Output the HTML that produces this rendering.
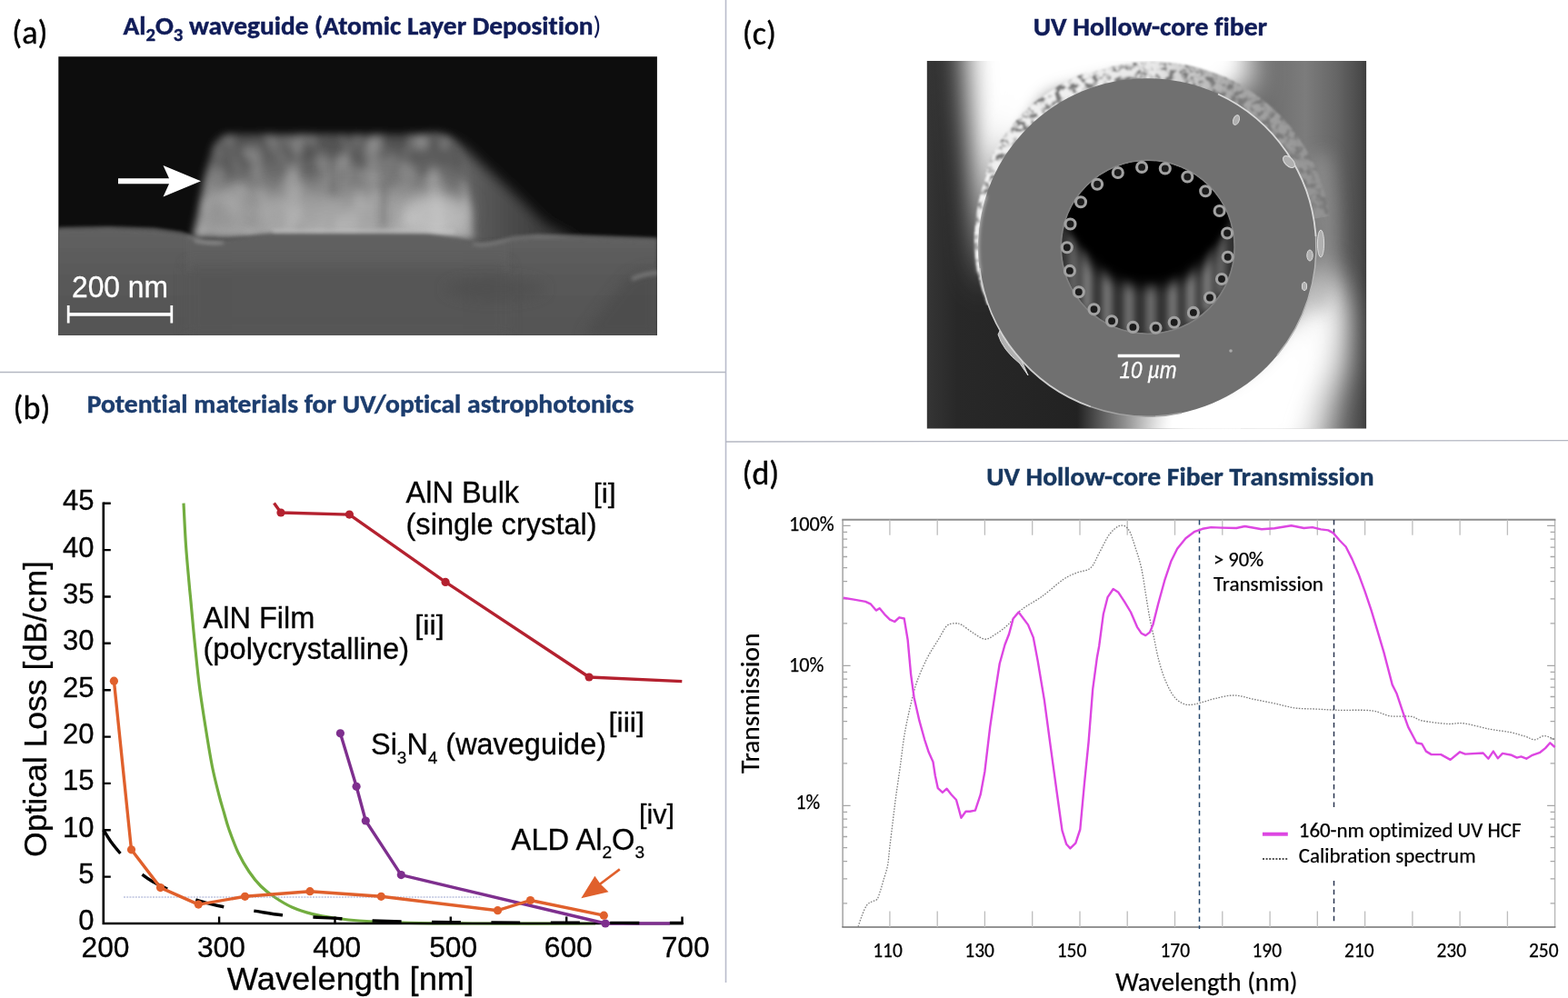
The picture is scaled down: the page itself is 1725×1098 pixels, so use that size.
<!DOCTYPE html>
<html lang="en">
<head>
<meta charset="utf-8">
<title>UV astrophotonics figure</title>
<style>
html,body{margin:0;padding:0;background:#fff;}
body{width:1725px;height:1098px;overflow:hidden;position:relative;}
svg{display:block;position:absolute;left:0;top:0;}
.cal{font-family:Carlito,Calibri,"Liberation Sans",sans-serif;}
.sans{font-family:"Liberation Sans",Arial,Helvetica,sans-serif;}
text{white-space:pre;font-variant-ligatures:none;font-feature-settings:"liga" 0,"clig" 0;}
</style>
</head>
<body>
<svg width="1725" height="1098" viewBox="0 0 1725 1098">
<defs>
<clipPath id="ca"><rect x="64.3" y="62.3" width="658.6" height="306.6"/></clipPath>
<filter id="b2" filterUnits="userSpaceOnUse" x="0" y="0" width="1725" height="1098"><feGaussianBlur stdDeviation="2"/></filter>
<filter id="b4" filterUnits="userSpaceOnUse" x="0" y="0" width="1725" height="1098"><feGaussianBlur stdDeviation="4"/></filter>
<filter id="b7" filterUnits="userSpaceOnUse" x="0" y="0" width="1725" height="1098"><feGaussianBlur stdDeviation="7"/></filter>
<filter id="b12" filterUnits="userSpaceOnUse" x="0" y="0" width="1725" height="1098"><feGaussianBlur stdDeviation="12"/></filter>
<filter id="wgf" filterUnits="userSpaceOnUse" x="150" y="100" width="520" height="220">
<feTurbulence type="fractalNoise" baseFrequency="0.045 0.03" numOctaves="2" seed="5" result="n"/>
<feColorMatrix in="n" type="matrix" values="0 0 0 0 1  0 0 0 0 1  0 0 0 0 1  0.6 0 0 0 -0.26" result="hi"/>
<feComposite in="hi" in2="SourceGraphic" operator="in" result="hi2"/>
<feColorMatrix in="n" type="matrix" values="0 0 0 0 0  0 0 0 0 0  0 0 0 0 0  0 0.6 0 0 -0.27" result="lo"/>
<feComposite in="lo" in2="SourceGraphic" operator="in" result="lo2"/>
<feMerge><feMergeNode in="SourceGraphic"/><feMergeNode in="hi2"/><feMergeNode in="lo2"/></feMerge>
<feGaussianBlur stdDeviation="4"/>
</filter>
<linearGradient id="wgv" x1="0" y1="146" x2="0" y2="258" gradientUnits="userSpaceOnUse">
<stop offset="0" stop-color="#4a4a4a"/><stop offset="0.25" stop-color="#5e5e5e"/><stop offset="0.55" stop-color="#7e7e7e"/><stop offset="0.85" stop-color="#989898"/><stop offset="1" stop-color="#a8a8a8"/></linearGradient>
<linearGradient id="subv" x1="0" y1="250" x2="0" y2="369" gradientUnits="userSpaceOnUse">
<stop offset="0" stop-color="#626262"/><stop offset="0.3" stop-color="#5b5b5b"/><stop offset="1" stop-color="#545454"/></linearGradient>
<linearGradient id="slp" x1="500" y1="200" x2="600" y2="200" gradientUnits="userSpaceOnUse">
<stop offset="0" stop-color="#6a6a6a"/><stop offset="0.35" stop-color="#565656"/><stop offset="1" stop-color="#3c3c3c"/></linearGradient>
</defs>
<g id="panel-a">
<text x="13.3" y="48.1" font-size="36.0" class="cal" textLength="39.1" lengthAdjust="spacingAndGlyphs" stroke="#000" stroke-width="0.4">(a)</text>
<text x="135.4" y="38.3" font-size="28.4" class="cal" font-weight="bold" fill="#101c58" stroke="#101c58" stroke-width="0.45" textLength="526" lengthAdjust="spacingAndGlyphs">Al<tspan font-size="20" dy="6.3">2</tspan><tspan dy="-6.3">O</tspan><tspan font-size="20" dy="6.3">3</tspan><tspan dy="-6.5"> waveguide (Atomic Layer Deposition</tspan><tspan font-weight="normal" stroke="none">)</tspan></text>
<g clip-path="url(#ca)">
<rect x="64" y="62" width="660" height="308" fill="#0d0d0d"/>
<path d="M470 150 Q500 150 520 172 L560 208 L600 246 L640 268 L520 275 L480 262Z" fill="url(#slp)" filter="url(#b7)"/>
<path d="M60 252 L120 251 L170 252.8 L200 257 L222 265 L240 266.5 L520 268 L530 269.5 L545 267 L565 262 L590 259.8 L640 260.5 L724 263.5 V372 H60Z" fill="url(#subv)" filter="url(#b2)"/>
<path d="M212 262 L218 232 L225 195 L233 165 Q238 149 252 147.5 L482 147.5 Q500 149 507 168 L516 215 L521 262Z" fill="url(#wgv)" filter="url(#wgf)"/>
<ellipse cx="385" cy="232" rx="130" ry="24" fill="#b4b4b4" opacity="0.55" filter="url(#b12)"/>
<ellipse cx="480" cy="238" rx="36" ry="24" fill="#d0d0d0" opacity="0.55" filter="url(#b7)"/>
<ellipse cx="250" cy="235" rx="22" ry="28" fill="#999" opacity="0.35" filter="url(#b7)"/>
<path d="M366 160V215M422 200V250" stroke="#505050" stroke-width="8" opacity="0.35" fill="none" filter="url(#b4)"/>
<path d="M205 259 L222 265.5 L250 263 L300 256.5 L470 256.5 L505 262 L522 268.5 L560 264 L560 300 L205 300Z" fill="#606060" filter="url(#b2)"/>
<path d="M205 290H560V372H205Z" fill="#575757" filter="url(#b7)" opacity="0.9"/>
<path d="M64 252 L120 251 L170 252.8 L200 257 L222 265 L240 266.8" stroke="#7c7c7c" stroke-width="2" fill="none" filter="url(#b2)"/>
<path d="M214 265 Q228 268.5 246 267" stroke="#a0a0a0" stroke-width="2" fill="none" filter="url(#b2)"/>
<path d="M520 268 Q530 270.5 545 267 L565 262 L590 259.8 L640 260.5 L723 263.5" stroke="#8a8a8a" stroke-width="2.2" fill="none" filter="url(#b2)"/>
<path d="M300 254.5 L500 254.5" stroke="#c8c8c8" stroke-width="3" fill="none" filter="url(#b2)" opacity="0.7"/>
<path d="M690 305 Q705 296 724 296 V372 H640 Q660 340 690 305Z" fill="#4a4a4a" opacity="0.6" filter="url(#b7)"/>
<path d="M695 307 Q708 301 724 300" stroke="#7a7a7a" stroke-width="4" fill="none" filter="url(#b2)"/>
<ellipse cx="545" cy="318" rx="55" ry="12" fill="#4c4c4c" opacity="0.5" filter="url(#b7)"/>
<path d="M130 196.2H186L179.5 182L221 199.3L179.5 216.5L186 202.3H130Z" fill="#fff"/>
<path d="M75 345.9H189" stroke="#fff" stroke-width="3.6" fill="none"/>
<path d="M75.2 335.9V355.6M188.8 335.9V355.6" stroke="#fff" stroke-width="2.8" fill="none"/>
<text x="79.0" y="326.6" font-size="33.0" class="sans" fill="#fff" textLength="106.0" lengthAdjust="spacingAndGlyphs" stroke="#fff" stroke-width="0.3">200 nm</text>
</g></g>
<defs>
<clipPath id="cc"><rect x="1019.8" y="66.9" width="483.3" height="404.7"/></clipPath>
<clipPath id="crough"><path d="M1000 40H1520V228L1262 272L1060 345H1000Z"/></clipPath>
<clipPath id="chole"><circle cx="1262.7" cy="271.8" r="94.6"/></clipPath>
<filter id="b05" filterUnits="userSpaceOnUse" x="1100" y="100" width="330" height="340"><feGaussianBlur stdDeviation="0.6"/></filter>
<filter id="b10" filterUnits="userSpaceOnUse" x="0" y="0" width="1725" height="1098"><feGaussianBlur stdDeviation="10"/></filter>
<filter id="b16" filterUnits="userSpaceOnUse" x="0" y="0" width="1725" height="1098"><feGaussianBlur stdDeviation="16"/></filter>
<filter id="rough" filterUnits="userSpaceOnUse" x="1000" y="40" width="520" height="450">
<feTurbulence type="fractalNoise" baseFrequency="0.13" numOctaves="3" seed="11" result="n"/>
<feColorMatrix in="n" type="matrix" values="0 0 0 0 0  0 0 0 0 0  0 0 0 0 0  3 3 0 0 -2.75" result="a"/>
<feFlood flood-color="#7a7a7a"/><feComposite in2="a" operator="in" result="dk"/>
<feMerge><feMergeNode in="SourceGraphic"/><feMergeNode in="dk"/></feMerge>
<feComposite in2="SourceGraphic" operator="in"/>
<feGaussianBlur stdDeviation="0.8"/>
</filter>
<linearGradient id="cbg" x1="1019" y1="0" x2="1504" y2="0" gradientUnits="userSpaceOnUse">
<stop offset="0" stop-color="#353535"/><stop offset="0.07" stop-color="#282828"/><stop offset="0.35" stop-color="#222"/><stop offset="0.86" stop-color="#7c7c7c"/><stop offset="0.93" stop-color="#666"/><stop offset="0.985" stop-color="#4a4a4a"/><stop offset="1" stop-color="#3c3c3c"/></linearGradient>
<linearGradient id="cbot" x1="1185" y1="0" x2="1290" y2="0" gradientUnits="userSpaceOnUse">
<stop offset="0" stop-color="#fff" stop-opacity="0"/><stop offset="0.5" stop-color="#fff" stop-opacity="0.45"/><stop offset="1" stop-color="#fff" stop-opacity="1"/></linearGradient>
<linearGradient id="roughg" x1="1080" y1="0" x2="1460" y2="0" gradientUnits="userSpaceOnUse">
<stop offset="0" stop-color="#f4f4f4"/><stop offset="0.5" stop-color="#e8e8e8"/><stop offset="0.72" stop-color="#aaa"/><stop offset="1" stop-color="#909090"/></linearGradient>
<radialGradient id="holeg" cx="1264" cy="255" r="112" gradientUnits="userSpaceOnUse">
<stop offset="0" stop-color="#000"/><stop offset="0.62" stop-color="#000"/><stop offset="0.85" stop-color="#161616"/><stop offset="1" stop-color="#2c2c2c"/></radialGradient>
</defs>
<g id="panel-c">
<text x="816.8" y="48.5" font-size="36.0" class="cal" textLength="37.1" lengthAdjust="spacingAndGlyphs" stroke="#000" stroke-width="0.4">(c)</text>
<text x="1136.7" y="39.3" font-size="28.4" class="cal" fill="#101c58" font-weight="bold" textLength="257.4" lengthAdjust="spacingAndGlyphs" stroke="#101c58" stroke-width="0.45">UV Hollow-core fiber</text>
<g clip-path="url(#cc)">
<rect x="1019" y="66" width="486" height="407" fill="url(#cbg)"/>
<path d="M1106 20 L1372 20 L1378 96 L1340 104 L1262 72 L1150 100 L1102 175 L1090 250 L1082 320 L1076 262 L1071 200 L1064 120 L1058 20Z" fill="#fff" filter="url(#b16)"/>
<path d="M1104 40 L1350 40 L1345 100 L1262 75 L1150 102 L1104 170 L1092 215Z" fill="#fff" filter="url(#b10)"/>
<path d="M1260 500 L1300 452 L1385 402 L1432 345 L1452 292 L1464 296 L1476 350 L1468 400 L1450 440 L1436 500Z" fill="#fff" filter="url(#b16)"/>
<path d="M1280 490 L1320 446 L1392 398 L1436 345 L1440 400 L1425 440 L1410 490Z" fill="#fff" filter="url(#b10)"/>
<rect x="1185" y="440" width="180" height="34" fill="url(#cbot)"/>
<path d="M1380 500 L1400 430 L1440 360 L1460 300 L1478 330 L1484 400 L1470 450 L1460 500Z" fill="#fff" opacity="0.55" filter="url(#b16)"/>
<path d="M1452 170 Q1470 272 1448 340" stroke="#a0a0a0" stroke-width="18" fill="none" opacity="0.7" filter="url(#b10)"/>
<g clip-path="url(#crough)"><ellipse cx="1268" cy="263" rx="196" ry="195" fill="url(#roughg)" filter="url(#rough)"/></g>
<path d="M1094 195 Q1122 122 1200 90" stroke="#f0f0f0" stroke-width="24" fill="none" filter="url(#rough)"/>
<circle cx="1262" cy="272.2" r="186" fill="#707070"/>
<path d="M1077 300 A186 186 0 0 1 1084 215" stroke="#f2f2f2" stroke-width="2.4" fill="none" filter="url(#b2)"/>
<path d="M1077.6 295 A186 186 0 0 0 1200 447.5" stroke="#cfcfcf" stroke-width="1.7" fill="none"/>
<path d="M1200 447.5 A186 186 0 0 0 1300 454.2" stroke="#a2a2a2" stroke-width="1.4" fill="none"/>
<path d="M1340 103.5 A186 186 0 0 1 1447.5 260" stroke="#dadada" stroke-width="1.8" fill="none"/>
<path d="M1447.5 260 A186 186 0 0 1 1405 391" stroke="#b8b8b8" stroke-width="1.4" fill="none"/>
<g fill="#b0b0b0" stroke="#dcdcdc" stroke-width="1">
<ellipse cx="1360" cy="132" rx="3.2" ry="5.5" transform="rotate(20 1360 132)"/>
<ellipse cx="1453" cy="268" rx="3.6" ry="15"/>
<ellipse cx="1441" cy="281" rx="3.2" ry="6"/>
<ellipse cx="1435" cy="315" rx="2.6" ry="4.5"/>
<ellipse cx="1418" cy="178" rx="8" ry="4.5" transform="rotate(45 1418 178)"/>
<path d="M1098 368 Q1103 385 1122 400 L1131 413 L1124 397 Q1108 380 1100 364Z"/>
</g>
<circle cx="1354" cy="386" r="1.8" fill="#aaa"/>
<circle cx="1262.7" cy="271.8" r="95.2" fill="#000" stroke="#808080" stroke-width="2.2"/>
<g clip-path="url(#chole)">
<circle cx="1262.7" cy="271.8" r="96" fill="#303030"/>
<g filter="url(#b4)">
<path d="M1181.0 262.0V318.3" stroke="#9a9a9a" stroke-width="9" stroke-linecap="round" fill="none" opacity="0.60"/>
<path d="M1196.0 276.0V337.4" stroke="#9a9a9a" stroke-width="9" stroke-linecap="round" fill="none" opacity="0.85"/>
<path d="M1218.0 294.0V353.6" stroke="#9a9a9a" stroke-width="9" stroke-linecap="round" fill="none" opacity="0.80"/>
<path d="M1242.0 306.0V362.5" stroke="#9a9a9a" stroke-width="9" stroke-linecap="round" fill="none" opacity="0.75"/>
<path d="M1266.0 310.0V364.7" stroke="#9a9a9a" stroke-width="9" stroke-linecap="round" fill="none" opacity="0.70"/>
<path d="M1290.0 302.0V360.8" stroke="#9a9a9a" stroke-width="9" stroke-linecap="round" fill="none" opacity="0.80"/>
<path d="M1310.0 288.0V352.2" stroke="#9a9a9a" stroke-width="9" stroke-linecap="round" fill="none" opacity="0.85"/>
<path d="M1328.0 272.0V338.8" stroke="#9a9a9a" stroke-width="9" stroke-linecap="round" fill="none" opacity="0.85"/>
<path d="M1343.0 258.0V320.6" stroke="#9a9a9a" stroke-width="9" stroke-linecap="round" fill="none" opacity="0.60"/>
</g>
<ellipse cx="1262.7" cy="242" rx="82" ry="74" fill="#000" filter="url(#b7)"/>
<ellipse cx="1262.7" cy="232" rx="92" ry="58" fill="#000" filter="url(#b4)"/>
</g>
<g filter="url(#b05)">
<circle cx="1256.1" cy="183.9" r="5.5" fill="#1c1c1c" stroke="#a2a2a2" stroke-width="3.1"/>
<circle cx="1281.8" cy="185.4" r="5.5" fill="#1c1c1c" stroke="#a2a2a2" stroke-width="3.1"/>
<circle cx="1306.3" cy="194.5" r="5.5" fill="#1c1c1c" stroke="#a2a2a2" stroke-width="3.1"/>
<circle cx="1326.2" cy="210.2" r="5.5" fill="#1c1c1c" stroke="#a2a2a2" stroke-width="3.1"/>
<circle cx="1341.6" cy="232.0" r="5.5" fill="#1c1c1c" stroke="#a2a2a2" stroke-width="3.1"/>
<circle cx="1350.1" cy="256.5" r="5.5" fill="#1c1c1c" stroke="#a2a2a2" stroke-width="3.1"/>
<circle cx="1350.7" cy="282.8" r="5.5" fill="#1c1c1c" stroke="#a2a2a2" stroke-width="3.1"/>
<circle cx="1344.0" cy="307.0" r="5.5" fill="#1c1c1c" stroke="#a2a2a2" stroke-width="3.1"/>
<circle cx="1331.0" cy="327.5" r="5.5" fill="#1c1c1c" stroke="#a2a2a2" stroke-width="3.1"/>
<circle cx="1312.9" cy="343.9" r="5.5" fill="#1c1c1c" stroke="#a2a2a2" stroke-width="3.1"/>
<circle cx="1291.7" cy="354.7" r="5.5" fill="#1c1c1c" stroke="#a2a2a2" stroke-width="3.1"/>
<circle cx="1271.5" cy="360.8" r="5.5" fill="#1c1c1c" stroke="#a2a2a2" stroke-width="3.1"/>
<circle cx="1246.4" cy="359.9" r="5.5" fill="#1c1c1c" stroke="#a2a2a2" stroke-width="3.1"/>
<circle cx="1223.1" cy="353.2" r="5.5" fill="#1c1c1c" stroke="#a2a2a2" stroke-width="3.1"/>
<circle cx="1203.5" cy="340.2" r="5.5" fill="#1c1c1c" stroke="#a2a2a2" stroke-width="3.1"/>
<circle cx="1186.8" cy="321.2" r="5.5" fill="#1c1c1c" stroke="#a2a2a2" stroke-width="3.1"/>
<circle cx="1176.9" cy="297.9" r="5.5" fill="#1c1c1c" stroke="#a2a2a2" stroke-width="3.1"/>
<circle cx="1173.8" cy="272.2" r="5.5" fill="#1c1c1c" stroke="#a2a2a2" stroke-width="3.1"/>
<circle cx="1177.5" cy="246.5" r="5.5" fill="#1c1c1c" stroke="#a2a2a2" stroke-width="3.1"/>
<circle cx="1189.0" cy="222.3" r="5.5" fill="#1c1c1c" stroke="#a2a2a2" stroke-width="3.1"/>
<circle cx="1207.1" cy="202.7" r="5.5" fill="#1c1c1c" stroke="#a2a2a2" stroke-width="3.1"/>
<circle cx="1229.8" cy="190.0" r="5.5" fill="#1c1c1c" stroke="#a2a2a2" stroke-width="3.1"/>
</g>
<path d="M1229.7 391.5H1297.8" stroke="#fff" stroke-width="3.6" fill="none"/>
<text x="1231.5" y="416.3" font-size="25.0" class="sans" fill="#fff" font-style="italic" textLength="63.0" lengthAdjust="spacingAndGlyphs" stroke="#fff" stroke-width="0.3">10 µm</text>
</g></g>
<g id="panel-b">
<text x="14.6" y="460.6" font-size="36.0" class="cal" textLength="40.7" lengthAdjust="spacingAndGlyphs" stroke="#000" stroke-width="0.4">(b)</text>
<text x="95.7" y="454.1" font-size="28.4" class="cal" fill="#1c3d6e" font-weight="bold" textLength="601.6" lengthAdjust="spacingAndGlyphs" stroke="#1c3d6e" stroke-width="0.45">Potential materials for UV/optical astrophotonics</text>
<path d="M202.0 553.6 C202.4 561.3 203.5 585.6 204.5 600.0 C205.5 614.4 207.0 629.7 207.9 640.0 C208.8 650.3 208.9 650.8 210.0 662.0 C211.1 673.2 212.6 691.3 214.2 707.0 C215.8 722.7 217.4 740.1 219.5 756.0 C221.6 771.9 224.2 788.1 226.5 802.6 C228.8 817.1 231.0 830.9 233.4 843.0 C235.8 855.1 238.8 866.3 241.0 875.0 C243.2 883.7 244.9 888.7 246.7 895.0 C248.5 901.3 249.4 905.5 252.0 912.7 C254.6 919.9 258.3 930.3 262.0 938.0 C265.7 945.7 269.8 952.8 274.0 959.0 C278.2 965.2 282.3 970.3 287.0 975.0 C291.7 979.7 296.3 983.2 302.0 987.0 C307.7 990.8 314.0 994.9 321.0 998.0 C328.0 1001.1 336.0 1003.6 343.8 1005.6 C351.6 1007.6 359.5 1008.8 368.0 1010.0 C376.5 1011.2 381.3 1012.1 395.0 1013.0 C408.7 1013.9 429.2 1014.8 450.0 1015.3 C470.8 1015.8 485.8 1015.9 520.0 1016.0 C554.2 1016.1 632.5 1016.0 655.0 1016.0" fill="none" stroke="#72ad3f" stroke-width="3.2"/>
<path d="M136 987H530" stroke="#8f9ac8" stroke-width="0.9" stroke-dasharray="2 1.2" fill="none"/>
<path d="M113.8 552.4V1016H752" fill="none" stroke="#000" stroke-width="2.6" stroke-linejoin="miter"/>
<path d="M113.8 964.6h8M113.8 913.3h8M113.8 861.9h8M113.8 810.6h8M113.8 759.2h8M113.8 707.8h8M113.8 656.5h8M113.8 605.1h8M113.8 553.8h8M241.1 1016v-7.5M368.5 1016v-7.5M495.8 1016v-7.5M623.2 1016v-7.5M750.5 1016v-7.5" fill="none" stroke="#000" stroke-width="2.4"/>
<path d="M374.4 806.8 L392.1 865.3 L402.3 903.0 L441.3 962.6 L666.0 1016.0 L737.0 1016.0" fill="none" stroke="#7e2f8e" stroke-width="3.4" stroke-linejoin="round"/>
<circle cx="374.4" cy="806.8" r="4.6" fill="#7e2f8e"/>
<circle cx="392.1" cy="865.3" r="4.6" fill="#7e2f8e"/>
<circle cx="402.3" cy="903.0" r="4.6" fill="#7e2f8e"/>
<circle cx="441.3" cy="962.6" r="4.6" fill="#7e2f8e"/>
<circle cx="666.0" cy="1016.0" r="4.6" fill="#7e2f8e"/>
<path d="M113.8 913.0 C115.2 915.2 118.8 921.6 122.0 926.0 C125.2 930.4 129.3 935.3 132.8 939.4 C136.3 943.5 139.2 946.8 143.0 950.5 C146.8 954.2 151.4 958.2 155.6 961.5 C159.8 964.8 163.3 967.3 168.0 970.0 C172.7 972.7 178.5 975.4 183.5 977.7 C188.5 980.0 193.0 982.1 198.0 984.0 C203.0 985.9 208.5 987.7 213.7 989.3 C218.9 990.9 223.8 992.4 229.0 993.8 C234.2 995.2 239.5 996.5 245.0 997.5 C250.5 998.5 256.4 999.2 262.0 1000.0 C267.6 1000.8 270.7 1001.0 278.7 1002.1 C286.7 1003.2 299.1 1005.6 310.0 1006.8 C320.9 1007.9 333.0 1008.4 343.8 1009.0 C354.6 1009.6 364.1 1010.0 375.0 1010.7 C385.9 1011.4 392.3 1012.4 409.0 1013.0 C425.7 1013.6 453.2 1014.1 475.0 1014.4 C496.8 1014.7 510.8 1014.9 540.0 1015.0 C569.2 1015.1 614.8 1015.2 650.0 1015.3 C685.2 1015.4 734.2 1015.5 751.0 1015.5" fill="none" stroke="#000" stroke-width="3.4" stroke-dasharray="32 33.4"/>
<path d="M125.4 749.2 L144.5 934.8 L176.5 976.6 L218.3 995.1 L269.5 986.3 L341.0 980.7 L419.3 986.3 L547.5 1001.7 L583.5 990.5 L664.3 1007.2" fill="none" stroke="#e0602c" stroke-width="3.4" stroke-linejoin="round"/>
<circle cx="125.4" cy="749.2" r="4.6" fill="#e0602c"/>
<circle cx="144.5" cy="934.8" r="4.6" fill="#e0602c"/>
<circle cx="176.5" cy="976.6" r="4.6" fill="#e0602c"/>
<circle cx="218.3" cy="995.1" r="4.6" fill="#e0602c"/>
<circle cx="269.5" cy="986.3" r="4.6" fill="#e0602c"/>
<circle cx="341.0" cy="980.7" r="4.6" fill="#e0602c"/>
<circle cx="419.3" cy="986.3" r="4.6" fill="#e0602c"/>
<circle cx="547.5" cy="1001.7" r="4.6" fill="#e0602c"/>
<circle cx="583.5" cy="990.5" r="4.6" fill="#e0602c"/>
<circle cx="664.3" cy="1007.2" r="4.6" fill="#e0602c"/>
<path d="M301.5 553.6 L309.0 564.0 L384.4 566.1 L490.1 640.4 L648.1 745.0 L750.3 749.6" fill="none" stroke="#b4212f" stroke-width="3.4" stroke-linejoin="round"/>
<circle cx="309.0" cy="564.0" r="4.6" fill="#b4212f"/>
<circle cx="384.4" cy="566.1" r="4.6" fill="#b4212f"/>
<circle cx="490.1" cy="640.4" r="4.6" fill="#b4212f"/>
<circle cx="648.1" cy="745.0" r="4.6" fill="#b4212f"/>
<path d="M681.8 956.4L659 973.5" stroke="#e0602c" stroke-width="2.6" fill="none"/>
<path d="M639.3 988.2L654.4 963.8L660.5 972.5L669.5 981.2Z" fill="#e0602c"/>
<text x="103.6" y="1023.4" font-size="31.0" class="sans" text-anchor="end" stroke="#000" stroke-width="0.3">0</text>
<text x="103.6" y="972.0" font-size="31.0" class="sans" text-anchor="end" stroke="#000" stroke-width="0.3">5</text>
<text x="103.6" y="920.7" font-size="31.0" class="sans" text-anchor="end" stroke="#000" stroke-width="0.3">10</text>
<text x="103.6" y="869.3" font-size="31.0" class="sans" text-anchor="end" stroke="#000" stroke-width="0.3">15</text>
<text x="103.6" y="818.0" font-size="31.0" class="sans" text-anchor="end" stroke="#000" stroke-width="0.3">20</text>
<text x="103.6" y="766.6" font-size="31.0" class="sans" text-anchor="end" stroke="#000" stroke-width="0.3">25</text>
<text x="103.6" y="715.2" font-size="31.0" class="sans" text-anchor="end" stroke="#000" stroke-width="0.3">30</text>
<text x="103.6" y="663.9" font-size="31.0" class="sans" text-anchor="end" stroke="#000" stroke-width="0.3">35</text>
<text x="103.6" y="612.5" font-size="31.0" class="sans" text-anchor="end" stroke="#000" stroke-width="0.3">40</text>
<text x="103.6" y="561.2" font-size="31.0" class="sans" text-anchor="end" stroke="#000" stroke-width="0.3">45</text>
<text x="89.5" y="1052.8" font-size="31.0" class="sans" textLength="53.0" lengthAdjust="spacingAndGlyphs" stroke="#000" stroke-width="0.3">200</text>
<text x="216.9" y="1052.8" font-size="31.0" class="sans" textLength="53.0" lengthAdjust="spacingAndGlyphs" stroke="#000" stroke-width="0.3">300</text>
<text x="344.3" y="1052.8" font-size="31.0" class="sans" textLength="53.0" lengthAdjust="spacingAndGlyphs" stroke="#000" stroke-width="0.3">400</text>
<text x="472.2" y="1052.8" font-size="31.0" class="sans" textLength="53.0" lengthAdjust="spacingAndGlyphs" stroke="#000" stroke-width="0.3">500</text>
<text x="598.8" y="1052.8" font-size="31.0" class="sans" textLength="53.0" lengthAdjust="spacingAndGlyphs" stroke="#000" stroke-width="0.3">600</text>
<text x="727.7" y="1052.8" font-size="31.0" class="sans" textLength="53.0" lengthAdjust="spacingAndGlyphs" stroke="#000" stroke-width="0.3">700</text>
<text x="249.7" y="1089.2" font-size="35.5" class="sans" textLength="271.6" lengthAdjust="spacingAndGlyphs" stroke="#000" stroke-width="0.3">Wavelength [nm]</text>
<text x="50.5" y="943.0" font-size="35.5" class="sans" textLength="326.0" lengthAdjust="spacingAndGlyphs" transform="rotate(-90 50.5 943.0)" stroke="#000" stroke-width="0.3">Optical Loss [dB/cm]</text>
<text x="446.5" y="553.3" font-size="32.5" class="sans" stroke="#000" stroke-width="0.3">AlN Bulk</text>
<text x="446.5" y="587.7" font-size="32.5" class="sans" textLength="210.2" lengthAdjust="spacingAndGlyphs" stroke="#000" stroke-width="0.3">(single crystal)</text>
<text x="652.8" y="553.0" font-size="30.0" class="sans" textLength="25.0" lengthAdjust="spacingAndGlyphs" stroke="#000" stroke-width="0.3">[i]</text>
<text x="223.5" y="690.6" font-size="32.5" class="sans" stroke="#000" stroke-width="0.3">AlN Film</text>
<text x="223.5" y="724.8" font-size="32.5" class="sans" textLength="226.5" lengthAdjust="spacingAndGlyphs" stroke="#000" stroke-width="0.3">(polycrystalline)</text>
<text x="456.2" y="698.0" font-size="30.0" class="sans" textLength="32.5" lengthAdjust="spacingAndGlyphs" stroke="#000" stroke-width="0.3">[ii]</text>
<text x="408" y="830" font-size="32.5" class="sans" stroke="#000" stroke-width="0.3" textLength="259" lengthAdjust="spacingAndGlyphs">Si<tspan font-size="19" dy="9.5">3</tspan><tspan dy="-9.5">N</tspan><tspan font-size="19" dy="9.5">4</tspan><tspan dy="-9.5"> (waveguide)</tspan></text>
<text x="669.5" y="805.0" font-size="30.0" class="sans" textLength="39.5" lengthAdjust="spacingAndGlyphs" stroke="#000" stroke-width="0.3">[iii]</text>
<text x="562.6" y="934.8" font-size="32.5" class="sans" stroke="#000" stroke-width="0.3" textLength="146.5" lengthAdjust="spacingAndGlyphs">ALD Al<tspan font-size="19" dy="9.5">2</tspan><tspan dy="-9.5">O</tspan><tspan font-size="19" dy="9.5">3</tspan></text>
<text x="703.0" y="905.7" font-size="30.0" class="sans" textLength="39.0" lengthAdjust="spacingAndGlyphs" stroke="#000" stroke-width="0.3">[iv]</text>
</g>
<g id="panel-d">
<text x="816.5" y="533.0" font-size="36.0" class="cal" textLength="40.7" lengthAdjust="spacingAndGlyphs" stroke="#000" stroke-width="0.4">(d)</text>
<text x="1085.2" y="533.7" font-size="28.4" class="cal" fill="#17375f" font-weight="bold" textLength="426.3" lengthAdjust="spacingAndGlyphs" stroke="#17375f" stroke-width="0.45">UV Hollow-core Fiber Transmission</text>
<path d="M927.1 571.8V1020.0" stroke="#9c9c9c" stroke-width="1.4" fill="none"/>
<path d="M1710.6 571.8V1020.0" stroke="#b8b8b8" stroke-width="1.4" fill="none"/>
<path d="M926.3 571.8H1711.4" stroke="#8e8e8e" stroke-width="2" fill="none"/>
<path d="M926.3 1020.0H1711.4" stroke="#707070" stroke-width="1.6" fill="none"/>
<path d="M978.9 571.8v17M1031.2 571.8v17M1083.4 571.8v17M1135.7 571.8v17M1188.0 571.8v17M1240.2 571.8v17M1292.5 571.8v17M1344.8 571.8v17M1397.1 571.8v17M1449.3 571.8v17M1501.6 571.8v17M1553.9 571.8v17M1606.1 571.8v17M1658.4 571.8v17M978.9 1020.0v-17.5M1031.2 1020.0v-17.5M1083.4 1020.0v-17.5M1135.7 1020.0v-17.5M1188.0 1020.0v-17.5M1240.2 1020.0v-17.5M1292.5 1020.0v-17.5M1344.8 1020.0v-17.5M1397.1 1020.0v-17.5M1449.3 1020.0v-17.5M1501.6 1020.0v-17.5M1553.9 1020.0v-17.5M1606.1 1020.0v-17.5M1658.4 1020.0v-17.5" stroke="#bdbdbd" stroke-width="1.3" fill="none"/>
<path d="M927.1 578.3h8.5M927.1 732.3h8.5M927.1 886.3h8.5M927.1 685.9h5M927.1 658.8h5M927.1 639.6h5M927.1 624.7h5M927.1 612.5h5M927.1 602.2h5M927.1 593.2h5M927.1 585.3h5M927.1 839.9h5M927.1 812.8h5M927.1 793.6h5M927.1 778.7h5M927.1 766.5h5M927.1 756.2h5M927.1 747.2h5M927.1 739.3h5M927.1 993.9h5M927.1 966.8h5M927.1 947.6h5M927.1 932.7h5M927.1 920.5h5M927.1 910.2h5M927.1 901.2h5M927.1 893.3h5M1710.6 578.3h-8.5M1710.6 732.3h-8.5M1710.6 886.3h-8.5M1710.6 685.9h-5M1710.6 658.8h-5M1710.6 639.6h-5M1710.6 624.7h-5M1710.6 612.5h-5M1710.6 602.2h-5M1710.6 593.2h-5M1710.6 585.3h-5M1710.6 839.9h-5M1710.6 812.8h-5M1710.6 793.6h-5M1710.6 778.7h-5M1710.6 766.5h-5M1710.6 756.2h-5M1710.6 747.2h-5M1710.6 739.3h-5M1710.6 993.9h-5M1710.6 966.8h-5M1710.6 947.6h-5M1710.6 932.7h-5M1710.6 920.5h-5M1710.6 910.2h-5M1710.6 901.2h-5M1710.6 893.3h-5" stroke="#a6a6a6" stroke-width="1.3" fill="none"/>
<path d="M944.0 1019.5 C944.7 1017.6 946.5 1011.9 948.0 1008.0 C949.5 1004.1 951.5 999.0 953.3 996.3 C955.1 993.6 957.1 993.2 959.0 992.0 C960.9 990.8 963.3 991.3 964.9 989.3 C966.5 987.3 967.3 983.5 968.5 980.0 C969.7 976.5 970.6 973.0 971.9 968.4 C973.2 963.8 975.3 958.4 976.5 952.2 C977.7 946.0 977.9 939.4 978.9 931.3 C979.9 923.2 981.1 912.8 982.3 903.4 C983.4 894.0 984.4 885.2 985.8 875.0 C987.2 864.8 989.0 853.2 990.5 842.0 C992.0 830.8 993.2 819.3 995.1 808.0 C997.0 796.7 999.8 784.1 1002.1 774.3 C1004.4 764.5 1006.0 757.6 1009.1 749.0 C1012.2 740.4 1016.8 730.3 1020.7 722.8 C1024.6 715.2 1028.8 709.4 1032.3 703.7 C1035.8 698.0 1038.5 691.6 1041.6 688.6 C1044.7 685.6 1048.2 686.0 1050.9 685.8 C1053.6 685.6 1054.7 685.8 1057.8 687.4 C1060.9 689.0 1065.2 693.0 1069.5 695.6 C1073.8 698.2 1079.2 702.8 1083.4 703.2 C1087.7 703.6 1090.8 700.5 1095.0 697.9 C1099.2 695.3 1104.2 691.8 1108.9 687.4 C1113.6 683.0 1116.9 676.4 1123.2 671.2 C1129.5 666.0 1138.8 661.7 1146.5 656.1 C1154.2 650.5 1163.3 641.9 1169.7 637.5 C1176.1 633.1 1180.0 632.1 1185.0 630.0 C1190.0 627.9 1195.9 628.3 1199.9 624.7 C1203.9 621.1 1205.7 614.7 1209.2 608.5 C1212.7 602.3 1216.9 592.6 1220.8 587.6 C1224.7 582.6 1228.9 579.1 1232.4 578.3 C1235.9 577.5 1239.0 579.0 1241.7 582.9 C1244.4 586.8 1246.4 594.5 1248.7 601.5 C1251.0 608.5 1253.7 616.2 1255.6 624.7 C1257.5 633.2 1258.8 643.3 1260.3 652.6 C1261.8 661.9 1263.4 672.3 1264.9 680.5 C1266.5 688.7 1268.0 694.8 1269.6 702.0 C1271.1 709.2 1272.3 716.6 1274.2 724.0 C1276.1 731.4 1278.5 739.7 1281.2 746.5 C1283.9 753.3 1287.4 760.5 1290.5 765.0 C1293.6 769.5 1296.7 771.5 1299.8 773.2 C1302.9 775.0 1305.6 775.5 1309.1 775.5 C1312.6 775.5 1316.1 774.4 1320.7 773.2 C1325.3 772.0 1330.7 769.9 1336.9 768.5 C1343.1 767.1 1350.8 764.9 1357.8 765.0 C1364.8 765.1 1371.3 767.7 1378.7 769.2 C1386.1 770.7 1394.2 772.3 1402.0 773.9 C1409.8 775.5 1417.5 778.0 1425.2 779.0 C1432.9 780.0 1440.7 779.7 1448.4 780.1 C1456.2 780.5 1461.7 781.0 1471.7 781.3 C1481.7 781.6 1498.9 780.7 1508.5 781.8 C1518.1 782.9 1522.1 786.7 1529.4 787.8 C1536.8 788.9 1546.8 787.4 1552.6 788.3 C1558.4 789.1 1557.7 791.5 1564.3 792.9 C1570.9 794.2 1584.4 795.9 1592.1 796.4 C1599.8 796.9 1603.0 794.9 1610.7 795.9 C1618.5 796.9 1630.1 800.6 1638.6 802.2 C1647.1 803.8 1655.2 804.4 1661.8 805.7 C1668.4 807.1 1673.6 808.9 1678.1 810.3 C1682.5 811.6 1685.0 813.9 1688.5 813.8 C1692.0 813.7 1695.3 809.6 1699.0 809.6 C1702.7 809.6 1708.7 813.1 1710.6 813.8" fill="none" stroke="#7d7d7d" stroke-width="1.3" stroke-dasharray="1.6 1.5"/>
<path d="M1319.5 572V1022" stroke="#27496e" stroke-width="1.5" stroke-dasharray="5.5 4.2" fill="none"/>
<path d="M1467.5 572V890M1467.5 969V1016" stroke="#2a3550" stroke-width="1.5" stroke-dasharray="5.5 4.2" fill="none"/>
<path d="M927.8 657.7 L939.4 659.6 L952.1 661.9 L958.0 664.7 L963.8 671.6 L967.7 669.3 L973.1 675.8 L978.9 681.6 L984.2 684.0 L989.3 679.3 L994.7 680.5 L998.6 703.7 L1002.1 741.8 L1005.6 767.4 L1011.4 792.9 L1017.2 813.8 L1021.8 827.8 L1026.5 838.2 L1028.8 853.3 L1031.8 867.2 L1036.9 871.9 L1041.6 867.7 L1046.2 873.8 L1052.0 880.0 L1054.4 888.6 L1057.4 899.8 L1062.5 892.8 L1067.1 892.8 L1072.9 891.6 L1078.7 874.2 L1083.4 848.7 L1089.2 799.9 L1095.0 760.4 L1099.7 730.2 L1105.5 709.3 L1110.0 697.7 L1114.7 680.5 L1120.6 673.5 L1131.0 687.4 L1136.8 701.4 L1141.8 727.9 L1148.8 769.7 L1155.7 820.8 L1162.7 872.0 L1168.5 913.7 L1173.2 928.8 L1177.4 933.4 L1183.3 927.6 L1188.3 912.5 L1192.9 862.6 L1197.6 816.1 L1202.2 758.1 L1206.9 723.2 L1209.2 710.7 L1213.8 675.8 L1218.5 657.2 L1224.7 648.0 L1230.1 651.4 L1237.0 661.9 L1244.0 673.5 L1251.0 689.8 L1255.6 696.7 L1260.3 699.1 L1264.9 695.6 L1268.4 687.4 L1274.2 664.2 L1281.2 638.7 L1288.2 617.8 L1295.1 603.8 L1304.4 592.2 L1313.7 585.2 L1323.0 581.8 L1332.3 580.1 L1343.9 580.6 L1360.2 581.0 L1369.5 579.0 L1388.0 582.2 L1402.0 581.3 L1420.6 578.3 L1434.5 581.0 L1443.8 580.1 L1453.1 582.4 L1461.2 583.4 L1466.7 586.4 L1473.7 594.5 L1480.6 601.5 L1487.6 615.4 L1494.6 631.7 L1501.5 650.3 L1508.5 671.2 L1515.5 694.4 L1522.4 717.6 L1531.7 753.4 L1536.4 762.7 L1543.4 783.6 L1549.2 799.9 L1558.4 817.3 L1564.3 818.5 L1568.9 826.6 L1574.7 830.1 L1585.2 830.1 L1595.6 835.9 L1606.1 827.3 L1611.9 829.6 L1631.6 828.5 L1637.4 834.7 L1642.8 826.6 L1647.9 834.3 L1653.0 828.9 L1663.0 830.8 L1668.8 833.6 L1673.4 832.4 L1679.2 834.7 L1685.0 831.2 L1694.3 827.8 L1700.1 823.1 L1705.3 817.3 L1710.6 822.0" fill="none" stroke="#dd46e2" stroke-width="2.4" stroke-linejoin="round"/>
<text x="868.0" y="583.6" font-size="22.5" class="cal" textLength="49.8" lengthAdjust="spacingAndGlyphs" stroke="#000" stroke-width="0.25">100%</text>
<text x="868.0" y="739.0" font-size="22.5" class="cal" textLength="38.4" lengthAdjust="spacingAndGlyphs" stroke="#000" stroke-width="0.25">10%</text>
<text x="875.5" y="890.3" font-size="22.5" class="cal" textLength="26.7" lengthAdjust="spacingAndGlyphs" stroke="#000" stroke-width="0.25">1%</text>
<text x="960.2" y="1053.2" font-size="21.8" class="cal" textLength="32.6" lengthAdjust="spacingAndGlyphs" stroke="#000" stroke-width="0.25">110</text>
<text x="1061.3" y="1053.2" font-size="21.8" class="cal" textLength="32.6" lengthAdjust="spacingAndGlyphs" stroke="#000" stroke-width="0.25">130</text>
<text x="1162.7" y="1053.2" font-size="21.8" class="cal" textLength="32.6" lengthAdjust="spacingAndGlyphs" stroke="#000" stroke-width="0.25">150</text>
<text x="1276.5" y="1053.2" font-size="21.8" class="cal" textLength="32.6" lengthAdjust="spacingAndGlyphs" stroke="#000" stroke-width="0.25">170</text>
<text x="1377.5" y="1053.2" font-size="21.8" class="cal" textLength="32.6" lengthAdjust="spacingAndGlyphs" stroke="#000" stroke-width="0.25">190</text>
<text x="1479.0" y="1053.2" font-size="21.8" class="cal" textLength="32.6" lengthAdjust="spacingAndGlyphs" stroke="#000" stroke-width="0.25">210</text>
<text x="1580.5" y="1053.2" font-size="21.8" class="cal" textLength="32.6" lengthAdjust="spacingAndGlyphs" stroke="#000" stroke-width="0.25">230</text>
<text x="1682.0" y="1053.2" font-size="21.8" class="cal" textLength="32.6" lengthAdjust="spacingAndGlyphs" stroke="#000" stroke-width="0.25">250</text>
<text x="1227.3" y="1090.0" font-size="28.7" class="cal" textLength="200.2" lengthAdjust="spacingAndGlyphs" stroke="#000" stroke-width="0.25">Wavelength (nm)</text>
<text x="834.8" y="851.0" font-size="29.0" class="cal" textLength="154.5" lengthAdjust="spacingAndGlyphs" transform="rotate(-90 834.8 851.0)" stroke="#000" stroke-width="0.25">Transmission</text>
<text x="1335.0" y="622.9" font-size="22.5" class="cal" textLength="55.2" lengthAdjust="spacingAndGlyphs" stroke="#000" stroke-width="0.25">&gt; 90%</text>
<text x="1335.0" y="650.3" font-size="22.5" class="cal" textLength="121.0" lengthAdjust="spacingAndGlyphs" stroke="#000" stroke-width="0.25">Transmission</text>
<path d="M1388.9 917.7H1416.8" stroke="#dd46e2" stroke-width="4" fill="none"/>
<path d="M1389 945H1417" stroke="#555" stroke-width="1.8" stroke-dasharray="2 1.6" fill="none"/>
<text x="1428.8" y="920.7" font-size="22.9" class="cal" textLength="244.6" lengthAdjust="spacingAndGlyphs" stroke="#000" stroke-width="0.25">160-nm optimized UV HCF</text>
<text x="1428.8" y="948.5" font-size="22.9" class="cal" textLength="194.7" lengthAdjust="spacingAndGlyphs" stroke="#000" stroke-width="0.25">Calibration spectrum</text>
</g>
<path d="M798.5 0V1081" stroke="#b9bccb" stroke-width="1.6" fill="none"/>
<path d="M0 409.5H798" stroke="#b4b7c2" stroke-width="1.3" fill="none"/>
<path d="M798 486L1725 484.6" stroke="#b4b7c2" stroke-width="1.3" fill="none"/>
</svg>
</body>
</html>
